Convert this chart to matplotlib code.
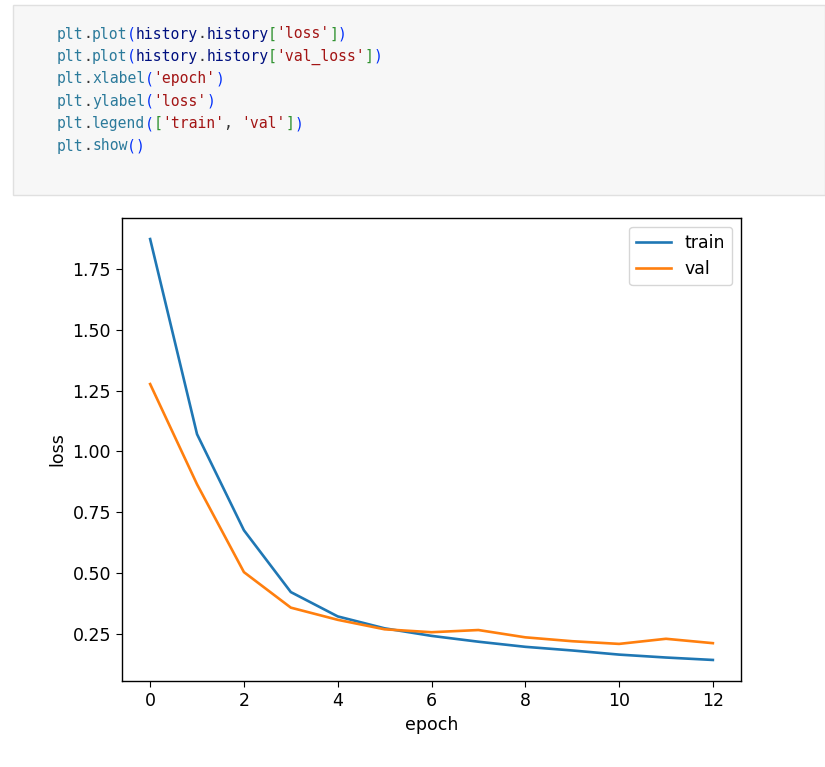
import matplotlib
matplotlib.use("Agg")
import matplotlib.pyplot as plt
from matplotlib.patches import Rectangle

epochs = list(range(13))
train_loss = [1.873, 1.071, 0.676, 0.422, 0.322, 0.273, 0.242, 0.218, 0.197, 0.182, 0.165, 0.153, 0.143]
val_loss = [1.277, 0.865, 0.504, 0.358, 0.308, 0.269, 0.257, 0.266, 0.236, 0.220, 0.209, 0.230, 0.212]
legend_labels = ['train', 'val']

plt.rcParams['font.size'] = 12.5
plt.rcParams['axes.linewidth'] = 1.0
plt.rcParams['xtick.major.size'] = 4.5
plt.rcParams['ytick.major.size'] = 4.5

W, H = 825, 767
fig = plt.figure(figsize=(W / 100, H / 100), dpi=100)
fig.patch.set_facecolor('white')

# code cell background
fig.patches.append(Rectangle((13 / W, 1 - 195 / H), (W - 13) / W, 190 / H,
                             transform=fig.transFigure, facecolor='#f7f7f7',
                             edgecolor='#e0e0e0', linewidth=1))

T, F, S, B, G, K = '#2b7a9b', '#001080', '#a31515', '#0431fa', '#319331', '#333333'
code = [
    [('plt', T), ('.', K), ('plot', T), ('(', B), ('history', F), ('.', K), ('history', F), ('[', G), ("'loss'", S), (']', G), (')', B)],
    [('plt', T), ('.', K), ('plot', T), ('(', B), ('history', F), ('.', K), ('history', F), ('[', G), ("'val_loss'", S), (']', G), (')', B)],
    [('plt', T), ('.', K), ('xlabel', T), ('(', B), ("'epoch'", S), (')', B)],
    [('plt', T), ('.', K), ('ylabel', T), ('(', B), ("'loss'", S), (')', B)],
    [('plt', T), ('.', K), ('legend', T), ('(', B), ('[', G), ("'train'", S), (', ', K), ("'val'", S), (']', G), (')', B)],
    [('plt', T), ('.', K), ('show', T), ('(', B), (')', B)],
]
cw = 8.78
for i, line in enumerate(code):
    y = 34 + i * 22.4
    x = 57
    for tok, col in line:
        fig.text(x / W, 1 - y / H, tok, color=col, family='DejaVu Sans Mono',
                 fontsize=10.6, va='center', ha='left')
        x += cw * len(tok)

ax = fig.add_axes([122 / W, 1 - 681 / H, (741 - 122) / W, (681 - 218) / H])
ax.plot(epochs, train_loss, linewidth=1.9)
ax.plot(epochs, val_loss, linewidth=1.9)
ax.set_xlabel('epoch')
ax.set_ylabel('loss')
ax.legend(legend_labels)
ax.set_xticks([0, 2, 4, 6, 8, 10, 12])

fig.savefig('out.png', dpi=100)
